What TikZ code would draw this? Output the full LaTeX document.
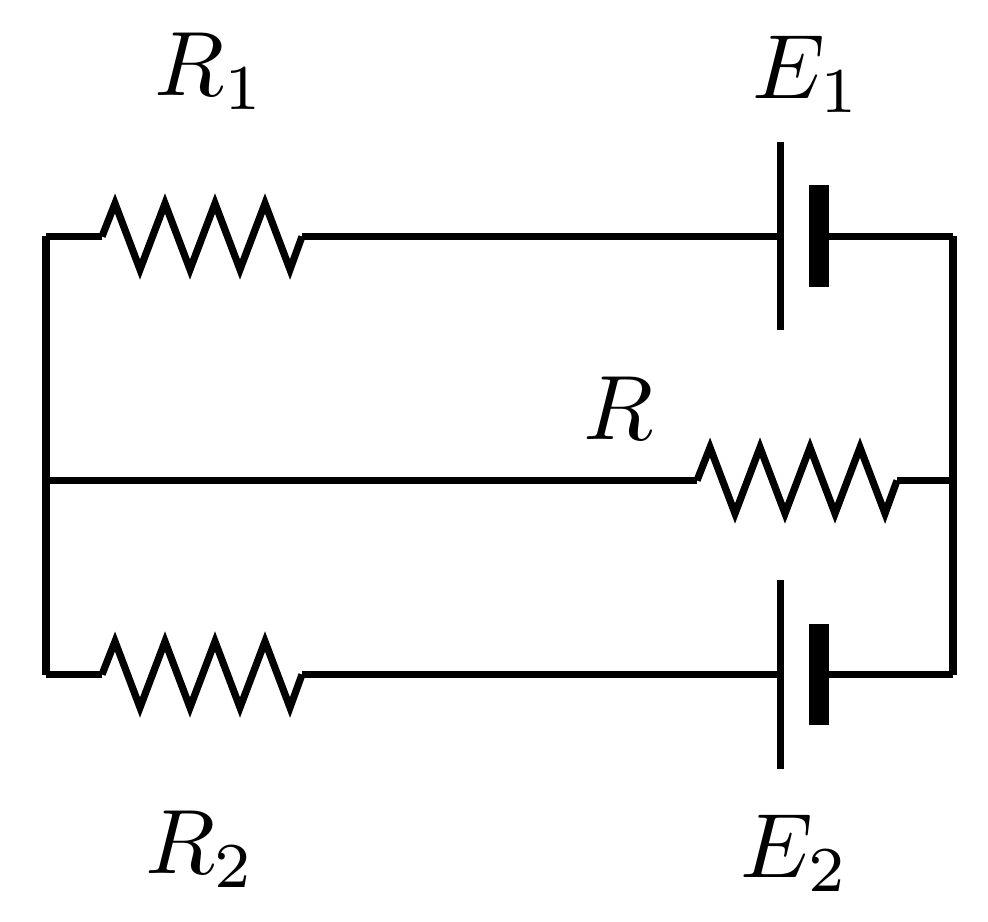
\documentclass[tikz,border=0pt]{standalone}
\tikzset{
  wire/.style={line width=0.072cm},
  lab/.style={scale=2.6},
  pics/resistor/.style={code={
    \draw [wire] (0,0) -- ++(0.13,0.33) -- ++(0.25,-0.66) -- ++(0.25,0.66) -- ++(0.25,-0.66)
      -- ++(0.25,0.66) -- ++(0.25,-0.66) -- ++(0.25,0.66) -- ++(0.25,-0.66) -- ++(0.12,0.33);
  }},
  pics/battery/.style={code={
    \draw [wire] (0,0.94) -- (0,-0.94);
    \fill (0.28,0.51) rectangle (0.48,-0.505);
  }}
}
\begin{document}
\begin{tikzpicture}
  \useasboundingbox (0,0) rectangle (9.88,9.21);
  % corners of the circuit
  \coordinate (tl) at (0.46,6.845);
  \coordinate (tr) at (9.53,6.845);
  \coordinate (ml) at (0.46,4.405);
  \coordinate (mr) at (9.53,4.405);
  \coordinate (bl) at (0.46,2.465);
  \coordinate (br) at (9.53,2.465);
  % ends of the elements
  \coordinate (r1a) at (1.02,6.845);
  \coordinate (r1b) at (3.02,6.845);
  \coordinate (e1a) at (7.805,6.845);
  \coordinate (e1b) at (8.28,6.845);
  \coordinate (ra) at (6.97,4.405);
  \coordinate (rb) at (8.97,4.405);
  \coordinate (r2a) at (1.02,2.465);
  \coordinate (r2b) at (3.02,2.465);
  \coordinate (e2a) at (7.805,2.465);
  \coordinate (e2b) at (8.28,2.465);
  % elements
  \pic at (r1a) {resistor};
  \pic at (ra) {resistor};
  \pic at (r2a) {resistor};
  \pic at (e1a) {battery};
  \pic at (e2a) {battery};
  % wires
  \draw [wire] (tl) -- (bl);
  \draw [wire] (tr) -- (br);
  \draw [wire] (tl) -- (r1a);
  \draw [wire] (r1b) -- (e1a);
  \draw [wire] (e1b) -- (tr);
  \draw [wire] (ml) -- (ra);
  \draw [wire] (rb) -- (mr);
  \draw [wire] (bl) -- (r2a);
  \draw [wire] (r2b) -- (e2a);
  \draw [wire] (e2b) -- (br);
  % labels
  \node [lab] (lr1) at (2.10,8.50) {$R_1$};
  \node [lab] (le1) at (8.07,8.465) {$E_1$};
  \node [lab] (lr) at (6.19,5.125) {$R$};
  \node [lab] (lr2) at (2.005,0.715) {$R_2$};
  \node [lab] (le2) at (7.95,0.68) {$E_2$};
\end{tikzpicture}
\end{document}
